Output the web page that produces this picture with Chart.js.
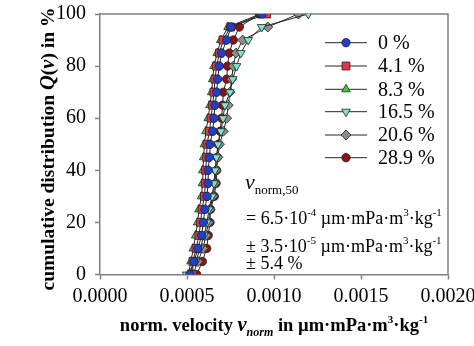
<!DOCTYPE html>
<html>
<head>
<meta charset="utf-8">
<script src="https://cdn.jsdelivr.net/npm/chart.js@4/dist/chart.umd.min.js"></script>
<style>
  html, body { margin: 0; padding: 0; background: #fff; }
  #wrap { width: 474px; height: 346px; }
</style>
</head>
<body>
<div id="wrap"><canvas id="c" width="474" height="346"></canvas></div>
<script>
// Cumulative distribution levels Q(v) in %
const levels = [0, 5, 10, 15, 20, 25, 30, 35, 40, 45, 50, 55, 60, 65, 70, 75, 80, 85, 90, 95, 100];

// Normalised velocity v_norm (µm·mPa·m³·kg⁻¹) reached at each level
const v_0 = [0.000517, 0.000540, 0.000563, 0.000584, 0.000594, 0.000603, 0.000615, 0.000621, 0.000622, 0.000628, 0.000632,
             0.000648, 0.000655, 0.000661, 0.000671, 0.000676, 0.000686, 0.000699, 0.000728, 0.000753, 0.000931];
const v_4_1 = [0.000530, 0.000534, 0.000552, 0.000569, 0.000578, 0.000586, 0.000600, 0.000606, 0.000607, 0.000613, 0.000615,
               0.000629, 0.000638, 0.000647, 0.000655, 0.000661, 0.000670, 0.000687, 0.000707, 0.000751, 0.000958];
const v_8_3 = [0.000507, 0.000523, 0.000536, 0.000550, 0.000561, 0.000569, 0.000584, 0.000589, 0.000591, 0.000596, 0.000600,
               0.000609, 0.000622, 0.000632, 0.000642, 0.000648, 0.000655, 0.000674, 0.000694, 0.000736, 0.000920];
const v_16_5 = [0.000498, 0.000550, 0.000575, 0.000598, 0.000615, 0.000626, 0.000644, 0.000655, 0.000661, 0.000669, 0.000678,
                0.000695, 0.000707, 0.000718, 0.000747, 0.000763, 0.000785, 0.000809, 0.000852, 0.000929, 0.001197];
const v_20_6 = [0.000534, 0.000563, 0.000592, 0.000609, 0.000624, 0.000632, 0.000649, 0.000661, 0.000667, 0.000678, 0.000687,
                0.000709, 0.000728, 0.000737, 0.000747, 0.000757, 0.000766, 0.000782, 0.000820, 0.000964, 0.001140];
const v_28_9 = [0.000556, 0.000588, 0.000613, 0.000622, 0.000632, 0.000635, 0.000657, 0.000667, 0.000670, 0.000674, 0.000680,
                0.000690, 0.000699, 0.000705, 0.000709, 0.000728, 0.000733, 0.000743, 0.000766, 0.000801, 0.000916];

const seriesLabels = ['0 %', '4.1 %', '8.3 %', '16.5 %', '20.6 %', '28.9 %'];
const seriesValues = [v_0, v_4_1, v_8_3, v_16_5, v_20_6, v_28_9];

// x-axis ticks
const xTicks = [0, 0.0005, 0.0010, 0.0015, 0.0020];

const SERIF = '"Liberation Serif", "Times New Roman", serif';

const markerStyles = [
  { style: 'circle',   color: '#2140c9', radius: 4.2, rot: 0 },
  { style: 'rect',     color: '#e8324c', radius: 5.6, rot: 0 },
  { style: 'triangle', color: '#3fcb35', radius: 5.0, rot: 0 },
  { style: 'triangle', color: '#7ee6c9', radius: 5.0, rot: 180 },
  { style: 'rectRot',  color: '#8c8c8c', radius: 5.0, rot: 0 },
  { style: 'circle',   color: '#8e1214', radius: 4.2, rot: 0 }
];

const datasets = seriesValues.map((vals, i) => ({
  label: seriesLabels[i],
  data: levels.map((q, k) => ({ x: vals[k], y: q })),
  showLine: true,
  borderColor: '#262626',
  borderWidth: 1,
  pointStyle: markerStyles[i].style,
  pointRotation: markerStyles[i].rot,
  pointRadius: markerStyles[i].radius,
  pointBackgroundColor: markerStyles[i].color,
  pointBorderColor: '#222',
  pointBorderWidth: 0.8
}));

// Draw a run of text pieces with individual fonts and vertical offsets
function fontOf(r) {
  return (r.i ? 'italic ' : '') + (r.b ? 'bold ' : '') + r.s + 'px ' + SERIF;
}
function runWidth(ctx, runs) {
  let w = 0;
  for (const r of runs) {
    ctx.font = fontOf(r);
    w += ctx.measureText(r.t).width;
  }
  return w;
}
function drawRuns(ctx, runs, x, y, align) {
  let cx = x;
  if (align === 'center') cx = x - runWidth(ctx, runs) / 2;
  ctx.textAlign = 'left';
  ctx.textBaseline = 'alphabetic';
  for (const r of runs) {
    ctx.font = fontOf(r);
    ctx.fillText(r.t, cx, y + (r.dy || 0));
    cx += ctx.measureText(r.t).width;
  }
}

function drawMarker(ctx, m, x, y) {
  const r = m.radius;
  ctx.beginPath();
  if (m.style === 'circle') {
    ctx.arc(x, y, r, 0, Math.PI * 2);
  } else if (m.style === 'rect') {
    const h = r * Math.SQRT1_2;
    ctx.rect(x - h, y - h, 2 * h, 2 * h);
  } else if (m.style === 'rectRot') {
    ctx.moveTo(x, y - r); ctx.lineTo(x + r, y); ctx.lineTo(x, y + r); ctx.lineTo(x - r, y);
    ctx.closePath();
  } else if (m.style === 'triangle') {
    let a = m.rot * Math.PI / 180;
    for (let k = 0; k < 3; k++) {
      const px = x + Math.sin(a) * r, py = y - Math.cos(a) * r;
      if (k === 0) ctx.moveTo(px, py); else ctx.lineTo(px, py);
      a += 2 * Math.PI / 3;
    }
    ctx.closePath();
  }
  ctx.fillStyle = m.color;
  ctx.fill();
  ctx.lineWidth = 0.8;
  ctx.strokeStyle = '#222';
  ctx.stroke();
}

const decorations = {
  id: 'decorations',
  beforeDatasetsDraw(chart) {
    const { ctx, chartArea: a } = chart;
    ctx.save();
    ctx.strokeStyle = '#808080';
    ctx.lineWidth = 1.5;
    ctx.beginPath();
    ctx.moveTo(a.left, a.top);
    ctx.lineTo(a.right, a.top);
    ctx.lineTo(a.right, a.bottom);
    ctx.stroke();
    ctx.restore();
  },
  afterDraw(chart) {
    const { ctx } = chart;
    ctx.save();
    ctx.fillStyle = '#000';

    // legend
    const legendY = [42.7, 66, 89.3, 111.7, 135, 157.7];
    seriesLabels.forEach((lab, i) => {
      const y = legendY[i];
      ctx.strokeStyle = '#262626';
      ctx.lineWidth = 1;
      ctx.beginPath();
      ctx.moveTo(325, y);
      ctx.lineTo(367, y);
      ctx.stroke();
      drawMarker(ctx, markerStyles[i], 346, y);
      ctx.fillStyle = '#000';
      ctx.font = '20px ' + SERIF;
      ctx.textAlign = 'left';
      ctx.textBaseline = 'middle';
      ctx.fillText(lab, 378, y + 1);
    });

    // median velocity note
    drawRuns(ctx, [
      { t: 'v', i: true, s: 22 },
      { t: 'norm,50', s: 13, dy: 5 }
    ], 245, 189);
    drawRuns(ctx, [
      { t: '= 6.5\u00b710', s: 18 },
      { t: '-4', s: 11, dy: -8 },
      { t: ' \u00b5m\u00b7mPa\u00b7m', s: 18 },
      { t: '3', s: 11, dy: -8 },
      { t: '\u00b7kg', s: 18 },
      { t: '-1', s: 11, dy: -8 }
    ], 246, 224);
    drawRuns(ctx, [
      { t: '\u00b1 3.5\u00b710', s: 18 },
      { t: '-5', s: 11, dy: -8 },
      { t: ' \u00b5m\u00b7mPa\u00b7m', s: 18 },
      { t: '3', s: 11, dy: -8 },
      { t: '\u00b7kg', s: 18 },
      { t: '-1', s: 11, dy: -8 }
    ], 246, 252);
    drawRuns(ctx, [
      { t: '\u00b1 5.4 %', s: 18 }
    ], 246, 269);

    // x-axis title
    drawRuns(ctx, [
      { t: 'norm. velocity ', b: true, s: 18.5 },
      { t: 'v', b: true, i: true, s: 20.5 },
      { t: 'norm', b: true, i: true, s: 12, dy: 5 },
      { t: ' in \u00b5m\u00b7mPa\u00b7m', b: true, s: 18.5 },
      { t: '3', b: true, s: 11, dy: -8 },
      { t: '\u00b7kg', b: true, s: 18.5 },
      { t: '-1', b: true, s: 11, dy: -8 }
    ], 274, 331, 'center');

    // y-axis title
    ctx.translate(53.5, 149);
    ctx.rotate(-Math.PI / 2);
    drawRuns(ctx, [
      { t: 'cumulative distribution ', b: true, s: 19.5 },
      { t: 'Q', b: true, i: true, s: 20.5 },
      { t: '(', b: true, s: 19.5 },
      { t: 'v', b: true, i: true, s: 20.5 },
      { t: ')', b: true, s: 19.5 },
      { t: ' in %', b: true, s: 19.5 }
    ], 0, 0, 'center');
    ctx.restore();
  }
};

new Chart(document.getElementById('c'), {
  type: 'scatter',
  data: { datasets },
  plugins: [decorations],
  options: {
    responsive: false,
    animation: false,
    devicePixelRatio: 1,
    layout: { padding: { top: 14, right: 26, left: 0, bottom: 0 } },
    plugins: { legend: { display: false }, tooltip: { enabled: false } },
    scales: {
      x: {
        type: 'linear',
        min: xTicks[0],
        max: xTicks[xTicks.length - 1],
        afterBuildTicks(s) { s.ticks = xTicks.map(v => ({ value: v })); },
        ticks: {
          callback: v => Number(v).toFixed(4),
          font: { family: SERIF, size: 20 },
          color: '#000',
          padding: 5,
          maxRotation: 0,
          autoSkip: false
        },
        grid: { drawOnChartArea: false, tickLength: 5, color: '#808080', tickWidth: 1.5 },
        border: { color: '#808080', width: 1.5 },
        afterFit(s) { s.height = 71.5; s.paddingLeft = 0; s.paddingRight = 0; }
      },
      y: {
        min: 0,
        max: 100,
        ticks: {
          stepSize: 20,
          font: { family: SERIF, size: 20 },
          color: '#000',
          padding: 9
        },
        grid: { drawOnChartArea: false, tickLength: 5, color: '#808080', tickWidth: 1.5 },
        border: { color: '#808080', width: 1.5 },
        afterFit(s) { s.width = 100; s.paddingTop = 0; s.paddingBottom = 0; }
      }
    }
  }
});
</script>
</body>
</html>
